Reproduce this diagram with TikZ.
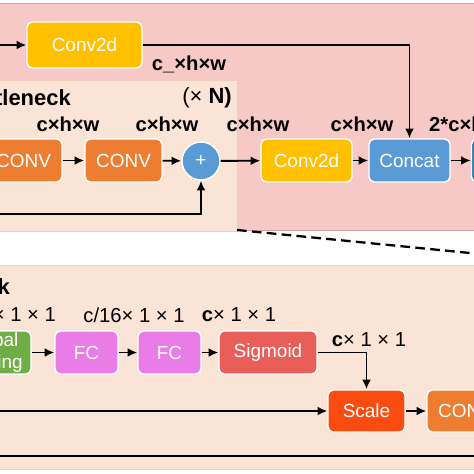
\documentclass[tikz,border=0pt]{standalone}
\usepackage{fontspec}
\setmainfont{Liberation Sans}
\usetikzlibrary{arrows.meta,positioning}

\definecolor{panelpink}{RGB}{247,201,198}
\definecolor{pinkedge}{RGB}{214,160,158}
\definecolor{panelbeige}{RGB}{250,228,214}
\definecolor{beigeedge}{RGB}{238,206,184}
\definecolor{convyellow}{RGB}{255,192,0}
\definecolor{convorange}{RGB}{237,125,49}
\definecolor{addblue}{RGB}{91,155,213}
\definecolor{deepblue}{RGB}{46,117,182}
\definecolor{poolgreen}{RGB}{112,173,71}
\definecolor{fcpink}{RGB}{234,124,232}
\definecolor{sigred}{RGB}{232,94,88}
\definecolor{scalered}{RGB}{250,76,16}

\tikzset{
  blk/.style={rounded corners=3pt, draw=white, line width=0.8pt, text=white,
    font=\fontsize{10.8}{12.5}\selectfont, minimum height=0.86cm, inner sep=1pt},
  dimlbl/.style={font=\bfseries\fontsize{11.5}{13}\selectfont},
  selbl/.style={font=\fontsize{11.5}{13}\selectfont},
  ttl/.style={font=\bfseries\fontsize{12.5}{14}\selectfont},
  arr/.style={-{Latex[length=5.5pt,width=5pt]}, line width=1.05pt},
}

\begin{document}
\begin{tikzpicture}[x=0.02cm,y=-0.02cm]
\useasboundingbox (0,0) rectangle (474,474);
\clip (0,0) rectangle (474,474);
\fill[white] (0,0) rectangle (474,474);

% panels
\filldraw[fill=panelpink, draw=pinkedge] (-10,3) rectangle (484,230);
\filldraw[fill=panelbeige, draw=beigeedge] (-10,80) rectangle (237,231);
\filldraw[fill=panelbeige, draw=beigeedge] (-10,265) rectangle (484,469);

% upper part
\node[blk, fill=convyellow, minimum width=2.3cm, minimum height=0.92cm] (convtop) at (84.5,45) {Conv2d};
\node[blk, fill=convorange, minimum width=1.54cm] (conva) at (23.5,160.5) {CONV};
\node[blk, fill=convorange, minimum width=1.54cm] (convb) at (123.5,160.5) {CONV};
\node[circle, fill=addblue, draw=white, line width=0.8pt, minimum size=0.76cm, inner sep=0pt,
  text=white, font=\fontsize{10.8}{12}\selectfont] (add) at (201,161) {+};
\node[blk, fill=convyellow, minimum width=1.82cm] (conv2d) at (306.5,160.5) {Conv2d};
\node[blk, fill=addblue, minimum width=1.62cm] (concat) at (409.5,160.5) {Concat};
\node[blk, fill=deepblue, minimum width=1.54cm] (nextblk) at (510,160.5) {};

\node[ttl, anchor=east] (bntitle) at (77,98) {Bottleneck};
\node[ttl] (repeat) at (207,98) {\mdseries(× \bfseries N)};
\node[dimlbl] (lbltop) at (189,64) {c\_×h×w};
\node[dimlbl] (lbla) at (68,124) {c×h×w};
\node[dimlbl] (lblb) at (167,124) {c×h×w};
\node[dimlbl] (lblc) at (258,124) {c×h×w};
\node[dimlbl] (lbld) at (362,124) {c×h×w};
\node[dimlbl, anchor=west] (lble) at (423,124) {2*c×h×w};

\coordinate (topin) at (0,45);
\coordinate (skipin) at (0,214);
\draw[arr] (topin) -- (convtop);
\draw[arr] (convtop.east) -| (concat.north);
\draw[arr] (conva) -- (convb);
\draw[arr] (convb) -- (add);
\draw[arr] (add) -- (conv2d);
\draw[arr] (conv2d) -- (concat);
\draw[arr] (concat) -- (nextblk);
\draw[arr] (skipin) -| (add.south);

% zoom line
\coordinate (zoomA) at (237,230);
\coordinate (zoomB) at (480,254);
\draw[line width=1.3pt, dash pattern=on 5.5pt off 3pt] (zoomA) -- (zoomB);

% SE part
\node[ttl, anchor=east] (setitle) at (16,287) {SE Block};
\node[blk, fill=poolgreen, minimum width=1.6cm, align=center] (pool) at (-9,352.5) {Global\\Pooling};
\node[blk, fill=fcpink, minimum width=1.26cm] (fca) at (86.5,352.5) {FC};
\node[blk, fill=fcpink, minimum width=1.26cm] (fcb) at (169.5,352.5) {FC};
\node[blk, fill=sigred, minimum width=1.96cm] (sig) at (268,352.5) {Sigmoid};
\node[blk, fill=scalered, minimum width=1.54cm, minimum height=0.84cm] (scale) at (366.5,411) {Scale};
\node[blk, fill=convorange, minimum width=1.54cm, minimum height=0.84cm] (convc) at (465.5,411) {CONV};

\node[selbl, anchor=east] (lblf) at (62,315) {\textbf{c}× 1 × 1};
\node[selbl] (lblg) at (134,315) {c/16× 1 × 1};
\node[selbl] (lblh) at (239,315) {\textbf{c}× 1 × 1};
\node[selbl] (lbli) at (369,340) {\textbf{c}× 1 × 1};

\coordinate (sein) at (0,411);
\coordinate (botl) at (0,456);
\coordinate (botr) at (480,456);
\draw[arr] (pool) -- (fca);
\draw[arr] (fca) -- (fcb);
\draw[arr] (fcb) -- (sig);
\draw[arr] (sig.east) -| (scale.north);
\draw[arr] (sein) -- (scale);
\draw[arr] (scale) -- (convc);
\draw[line width=1.1pt] (botl) -- (botr);
\end{tikzpicture}
\end{document}
